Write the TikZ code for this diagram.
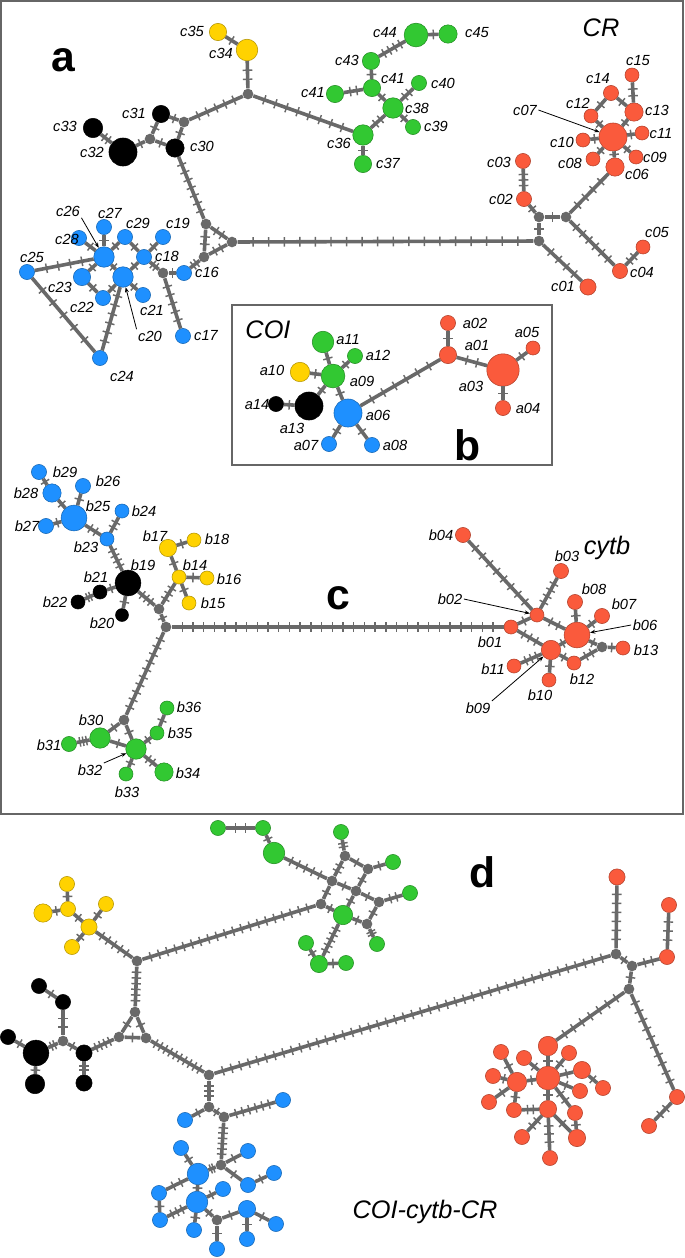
\documentclass[tikz,border=0pt]{standalone}
\usepackage{fontspec}
\setmainfont{Liberation Sans}
\usetikzlibrary{arrows.meta,decorations.markings}
\definecolor{HapRed}{RGB}{250,90,60}
\definecolor{HapGreen}{RGB}{50,200,50}
\definecolor{HapBlue}{RGB}{30,144,255}
\definecolor{HapYellow}{RGB}{255,210,0}
\definecolor{HapBlack}{RGB}{0,0,0}
\definecolor{EdgeGray}{RGB}{105,105,105}
\tikzset{
  hap/.style={circle, draw=#1!70!black, fill=#1, line width=0.4pt, inner sep=0pt},
  rh/.style={hap=HapRed, minimum size=#1*1.62pt},
  gh/.style={hap=HapGreen, minimum size=#1*1.62pt},
  bh/.style={hap=HapBlue, minimum size=#1*1.62pt},
  yh/.style={hap=HapYellow, minimum size=#1*1.62pt},
  kh/.style={hap=HapBlack, minimum size=#1*1.62pt},
  med/.style={circle, fill=EdgeGray, inner sep=0pt, minimum size=8pt},
  lnk/.style={draw=EdgeGray, line width=2.7pt},
  mut/.style={postaction={decorate, decoration={markings,
      mark=between positions 1/(#1+1) and #1/(#1+1)+0.0001 step 1/(#1+1)
      with {\draw[EdgeGray, line width=1.1pt] (0,-3.6pt) -- (0,3.6pt);}}}},
  lab/.style={font=\itshape\fontsize{11}{12}\selectfont, inner sep=1pt},
  panel/.style={font=\bfseries\fontsize{32}{32}\selectfont, inner sep=0pt},
  gene/.style={font=\itshape\fontsize{19}{20}\selectfont, inner sep=0pt},
  lead/.style={draw=black, line width=0.6pt, -{Stealth[length=4pt,width=3pt]}},
  frame/.style={draw=gray!80!black, line width=1.1pt},
}
\begin{document}
\begin{tikzpicture}[x=0.75pt, y=-0.75pt]
\useasboundingbox (0,0) rectangle (685,1258);
\draw[frame] (1,1) rectangle (683,814);
\draw[frame] (232,305) rectangle (552,465);

% ---- a: CR ----
\node[panel] (pa) at (63,60) {a};
\node[gene] (ga) at (601,28) {CR};
\node[kh=9] (c33) at (93,128) {};
\node[kh=13] (c32) at (123,152) {};
\node[kh=8] (c31) at (161,114) {};
\node[kh=8.5] (c30) at (175,148) {};
\node[med] (ma1) at (150,139) {};
\node[med] (ma2) at (184,122) {};
\node[med] (ma3) at (248,94) {};
\node[yh=10] (c34) at (247,50) {};
\node[yh=8] (c35) at (218,32) {};
\node[gh=11] (c44) at (416,35) {};
\node[gh=8.5] (c45) at (448,34) {};
\node[gh=8] (c43) at (371,61) {};
\node[gh=8] (c41) at (372,88) {};
\node[gh=8] (c41b) at (335,94) {};
\node[gh=7] (c40) at (419,83) {};
\node[gh=9.5] (c38) at (393,108) {};
\node[gh=7] (c39) at (413,127) {};
\node[gh=9.5] (c36) at (363,135) {};
\node[gh=8] (c37) at (363,164) {};
\node[rh=6.5] (c15) at (632,75) {};
\node[rh=7] (c14) at (611,93) {};
\node[rh=8.5] (c13) at (634,112) {};
\node[rh=6.5] (c12) at (591,116) {};
\node[rh=13] (c07) at (613,137) {};
\node[rh=6.5] (c11) at (642,133) {};
\node[rh=6.5] (c10) at (583,140) {};
\node[rh=6.5] (c09) at (636,157) {};
\node[rh=6.5] (c08) at (593,159) {};
\node[rh=8.5] (c06) at (615,167) {};
\node[rh=7] (c03) at (523,161) {};
\node[rh=7] (c02) at (524,199) {};
\node[rh=6.5] (c05) at (643,247) {};
\node[rh=7] (c04) at (620,271) {};
\node[rh=7.5] (c01) at (588,287) {};
\node[med] (ma4) at (539,217) {};
\node[med] (ma5) at (566,217) {};
\node[med] (ma6) at (539,241) {};
\node[med] (ma7) at (206,224) {};
\node[med] (ma8) at (232,242) {};
\node[med] (ma9) at (204,257) {};
\node[med] (ma10) at (163,273) {};
\node[bh=7] (c16) at (184,273) {};
\node[bh=7] (c17) at (183,336) {};
\node[bh=9.5] (c26) at (104,257) {};
\node[bh=7] (c27) at (104,227) {};
\node[bh=7] (c28) at (79,238) {};
\node[bh=7] (c29) at (125,237) {};
\node[bh=7] (c19) at (163,237) {};
\node[bh=7] (c18) at (144,257) {};
\node[bh=8] (c23) at (82,277) {};
\node[bh=9.5] (c20) at (123,277) {};
\node[bh=7] (c21) at (143,295) {};
\node[bh=7] (c22) at (103,298) {};
\node[bh=7] (c25) at (27,272) {};
\node[bh=7] (c24) at (100,358) {};

\draw[lnk, mut=2] (c33) -- (c32);
\draw[lnk, mut=1] (c32) -- (ma1);
\draw[lnk, mut=1] (ma1) -- (c31);
\draw[lnk, mut=1] (ma1) -- (c30);
\draw[lnk, mut=1] (c31) -- (ma2);
\draw[lnk, mut=1] (c30) -- (ma2);
\draw[lnk, mut=5] (ma2) -- (ma3);
\draw[lnk, mut=2] (ma3) -- (c34);
\draw[lnk, mut=1] (c34) -- (c35);
\draw[lnk, mut=8] (ma3) -- (c36);
\draw[lnk, mut=1] (c36) -- (c37);
\draw[lnk, mut=2] (c36) -- (c38);
\draw[lnk, mut=1] (c38) -- (c39);
\draw[lnk, mut=2] (c38) -- (c40);
\draw[lnk, mut=1] (c38) -- (c41);
\draw[lnk, mut=2] (c41) -- (c41b);
\draw[lnk, mut=1] (c41) -- (c43);
\draw[lnk, mut=4] (c43) -- (c44);
\draw[lnk, mut=1] (c44) -- (c45);
\draw[lnk, mut=7] (c30) -- (ma7);
\draw[lnk, mut=2] (ma7) -- (ma8);
\draw[lnk, mut=2] (ma7) -- (ma9);
\draw[lnk, mut=2] (ma9) -- (ma8);
\draw[lnk, mut=2] (ma9) -- (c16);
\draw[lnk, mut=1] (c16) -- (ma10);
\draw[lnk, mut=2] (ma10) -- (c18);
\draw[lnk, mut=5] (ma10) -- (c17);
\draw[lnk, mut=1] (c18) -- (c19);
\draw[lnk, mut=1] (c18) -- (c29);
\draw[lnk, mut=1] (c29) -- (c26);
\draw[lnk, mut=1] (c18) -- (c20);
\draw[lnk, mut=1] (c26) -- (c20);
\draw[lnk, mut=1] (c26) -- (c27);
\draw[lnk, mut=1] (c26) -- (c28);
\draw[lnk, mut=1] (c26) -- (c23);
\draw[lnk, mut=1] (c23) -- (c22);
\draw[lnk, mut=1] (c22) -- (c20);
\draw[lnk, mut=1] (c20) -- (c21);
\draw[lnk, mut=4] (c25) -- (c26);
\draw[lnk, mut=5] (c25) -- (c24);
\draw[lnk, mut=6] (c24) -- (c20);
\draw[lnk, mut=18] (ma8) -- (ma6);
\draw[lnk, mut=1] (ma6) -- (ma4);
\draw[lnk, mut=1] (ma4) -- (c02);
\draw[lnk, mut=3] (c02) -- (c03);
\draw[lnk, mut=1] (ma4) -- (ma5);
\draw[lnk, mut=4] (ma5) -- (c06);
\draw[lnk, mut=6] (ma5) -- (c04);
\draw[lnk, mut=2] (c04) -- (c05);
\draw[lnk, mut=4] (ma6) -- (c01);
\draw[lnk, mut=1] (c06) -- (c07);
\draw[lnk, mut=1] (c07) -- (c08);
\draw[lnk, mut=1] (c07) -- (c09);
\draw[lnk, mut=1] (c07) -- (c10);
\draw[lnk, mut=1] (c07) -- (c11);
\draw[lnk, mut=1] (c07) -- (c12);
\draw[lnk, mut=1] (c07) -- (c13);
\draw[lnk, mut=1] (c12) -- (c14);
\draw[lnk, mut=1] (c14) -- (c13);
\draw[lnk, mut=2] (c13) -- (c15);

\node[lab] (t33) at (65,126) {c33};
\node[lab] (t32) at (92,152) {c32};
\node[lab] (t31) at (134,113) {c31};
\node[lab] (t30) at (202,146) {c30};
\node[lab] (t35) at (192,31) {c35};
\node[lab] (t34) at (221,53) {c34};
\node[lab] (t44) at (385,33) {c44};
\node[lab] (t45) at (477,33) {c45};
\node[lab] (t43) at (347,60) {c43};
\node[lab] (t41) at (393,79) {c41};
\node[lab] (t41b) at (313,93) {c41};
\node[lab] (t40) at (443,83) {c40};
\node[lab] (t38) at (417,108) {c38};
\node[lab] (t39) at (436,126) {c39};
\node[lab] (t36) at (339,143) {c36};
\node[lab] (t37) at (388,163) {c37};
\node[lab] (t15) at (638,61) {c15};
\node[lab] (t14) at (598,79) {c14};
\node[lab] (t13) at (657,110) {c13};
\node[lab] (t12) at (578,103) {c12};
\node[lab] (t07) at (525,110) {c07};
\node[lab] (t11) at (661,134) {c11};
\node[lab] (t10) at (562,142) {c10};
\node[lab] (t09) at (655,157) {c09};
\node[lab] (t08) at (570,163) {c08};
\node[lab] (t06) at (637,174) {c06};
\node[lab] (t03) at (499,162) {c03};
\node[lab] (t02) at (501,199) {c02};
\node[lab] (t05) at (657,232) {c05};
\node[lab] (t04) at (642,272) {c04};
\node[lab] (t01) at (563,286) {c01};
\node[lab] (t26) at (68,211) {c26};
\node[lab] (t27) at (110,213) {c27};
\node[lab] (t29) at (138,223) {c29};
\node[lab] (t19) at (178,223) {c19};
\node[lab] (t28) at (67,239) {c28};
\node[lab] (t25) at (32,257) {c25};
\node[lab] (t18) at (167,256) {c18};
\node[lab] (t16) at (207,272) {c16};
\node[lab] (t23) at (60,287) {c23};
\node[lab] (t22) at (82,307) {c22};
\node[lab] (t21) at (152,310) {c21};
\node[lab] (t20) at (150,336) {c20};
\node[lab] (t17) at (206,336) {c17};
\node[lab] (t24) at (122,376) {c24};
\draw[lead] (t07.east) -- (c07);
\draw[lead] (t26.south east) -- (c26);
\draw[lead] (t20.north west) -- (c20);

% ---- b: COI ----
\node[panel] (pb) at (468,445) {b};
\node[gene] (gb) at (268,330) {COI};
\node[rh=7] (a02) at (448,323) {};
\node[rh=8] (a01) at (448,355) {};
\node[rh=6.5] (a05) at (533,348) {};
\node[rh=15] (a03) at (503,370) {};
\node[rh=7] (a04) at (503,408) {};
\node[gh=10] (a11) at (323,342) {};
\node[gh=7] (a12) at (355,356) {};
\node[yh=9] (a10) at (300,372) {};
\node[gh=11] (a09) at (333,376) {};
\node[kh=7] (a14) at (276,404) {};
\node[kh=13] (a13) at (309,406) {};
\node[bh=13] (a06) at (348,413) {};
\node[bh=7] (a07) at (329,444) {};
\node[bh=7] (a08) at (372,445) {};
\draw[lnk, mut=1] (a01) -- (a02);
\draw[lnk, mut=2] (a01) -- (a03);
\draw[lnk, mut=1] (a03) -- (a05);
\draw[lnk, mut=1] (a03) -- (a04);
\draw[lnk, mut=6] (a01) -- (a06);
\draw[lnk, mut=1] (a06) -- (a09);
\draw[lnk, mut=1] (a09) -- (a11);
\draw[lnk, mut=1] (a09) -- (a12);
\draw[lnk, mut=1] (a09) -- (a10);
\draw[lnk, mut=1] (a09) -- (a13);
\draw[lnk, mut=1] (a13) -- (a14);
\draw[lnk, mut=1] (a06) -- (a07);
\draw[lnk, mut=1] (a06) -- (a08);
\node[lab] (s02) at (475,323) {a02};
\node[lab] (s01) at (477,345) {a01};
\node[lab] (s05) at (527,332) {a05};
\node[lab] (s03) at (471,386) {a03};
\node[lab] (s04) at (528,408) {a04};
\node[lab] (s11) at (348,340) {a11};
\node[lab] (s12) at (378,355) {a12};
\node[lab] (s10) at (272,370) {a10};
\node[lab] (s09) at (362,381) {a09};
\node[lab] (s14) at (257,405) {a14};
\node[lab] (s13) at (292,428) {a13};
\node[lab] (s06) at (378,415) {a06};
\node[lab] (s07) at (306,445) {a07};
\node[lab] (s08) at (395,445) {a08};

% ---- c: cytb ----
\node[panel] (pc) at (338,598) {c};
\node[gene] (gc) at (607,548) {cytb};
\node[bh=7] (b29) at (39,472) {};
\node[bh=8.5] (b28) at (52,493) {};
\node[bh=7] (b26) at (83,486) {};
\node[bh=7] (b27) at (46,526) {};
\node[bh=12] (b25) at (74,518) {};
\node[bh=6.5] (b24) at (122,511) {};
\node[bh=6.5] (b23) at (107,539) {};
\node[kh=12] (b19) at (128,583) {};
\node[kh=6.5] (b21) at (100,592) {};
\node[kh=6.5] (b22) at (78,602) {};
\node[kh=6] (b20) at (122,615) {};
\node[yh=8] (b17) at (168,548) {};
\node[yh=6.5] (b18) at (194,540) {};
\node[yh=6.5] (b14) at (179,577) {};
\node[yh=6.5] (b16) at (207,578) {};
\node[yh=6.5] (b15) at (189,603) {};
\node[med] (mc1) at (159,609) {};
\node[med] (mc2) at (166,627) {};
\node[med] (mc3) at (124,720) {};
\node[gh=9.5] (b30) at (100,738) {};
\node[gh=7] (b31) at (69,744) {};
\node[gh=9.5] (b32) at (136,749) {};
\node[gh=6.5] (b33) at (126,774) {};
\node[gh=8.5] (b34) at (164,772) {};
\node[gh=6.5] (b35) at (157,733) {};
\node[gh=6.5] (b36) at (167,708) {};
\node[rh=7] (b04) at (463,535) {};
\node[rh=7] (b03) at (561,571) {};
\node[rh=7] (b08) at (575,602) {};
\node[rh=7] (b07) at (602,616) {};
\node[rh=6.5] (b02) at (537,615) {};
\node[rh=6.5] (b01) at (511,627) {};
\node[rh=12] (b06) at (577,635) {};
\node[rh=6.5] (b13) at (623,648) {};
\node[med] (mc4) at (602,647) {};
\node[rh=9] (b09) at (551,650) {};
\node[rh=6.5] (b12) at (574,663) {};
\node[rh=6.5] (b11) at (514,666) {};
\node[rh=6.5] (b10) at (549,680) {};
\draw[lnk, mut=1] (b29) -- (b28);
\draw[lnk, mut=1] (b28) -- (b25);
\draw[lnk, mut=1] (b26) -- (b25);
\draw[lnk, mut=1] (b27) -- (b25);
\draw[lnk, mut=2] (b25) -- (b23);
\draw[lnk, mut=2] (b23) -- (b24);
\draw[lnk, mut=4] (b23) -- (b19);
\draw[lnk, mut=1] (b19) -- (b21);
\draw[lnk, mut=2] (b21) -- (b22);
\draw[lnk, mut=1] (b19) -- (b20);
\draw[lnk, mut=3] (b19) -- (mc1);
\draw[lnk, mut=3] (mc1) -- (b14);
\draw[lnk, mut=1] (b14) -- (b17);
\draw[lnk, mut=1] (b17) -- (b18);
\draw[lnk, mut=1] (b14) -- (b16);
\draw[lnk, mut=1] (b14) -- (b15);
\draw[lnk, mut=1] (mc1) -- (mc2);
\draw[lnk, mut=30] (mc2) -- (b01);
\draw[lnk, mut=10] (mc2) -- (mc3);
\draw[lnk, mut=1] (mc3) -- (b30);
\draw[lnk, mut=1] (mc3) -- (b32);
\draw[lnk, mut=1] (b30) -- (b32);
\draw[lnk, mut=3] (b30) -- (b31);
\draw[lnk, mut=1] (b32) -- (b33);
\draw[lnk, mut=2] (b32) -- (b34);
\draw[lnk, mut=1] (b32) -- (b35);
\draw[lnk, mut=1] (b35) -- (b36);
\draw[lnk, mut=8] (b04) -- (b02);
\draw[lnk, mut=4] (b03) -- (b02);
\draw[lnk, mut=1] (b02) -- (b01);
\draw[lnk, mut=2] (b02) -- (b06);
\draw[lnk, mut=3] (b01) -- (b09);
\draw[lnk, mut=1] (b06) -- (b08);
\draw[lnk, mut=1] (b06) -- (b07);
\draw[lnk, mut=1] (b06) -- (b09);
\draw[lnk, mut=1] (b06) -- (mc4);
\draw[lnk, mut=1] (mc4) -- (b13);
\draw[lnk, mut=2] (mc4) -- (b12);
\draw[lnk, mut=1] (b09) -- (b12);
\draw[lnk, mut=3] (b09) -- (b11);
\draw[lnk, mut=1] (b09) -- (b10);
\node[lab] (u29) at (65,472) {b29};
\node[lab] (u28) at (26,493) {b28};
\node[lab] (u26) at (108,481) {b26};
\node[lab] (u25) at (98,506) {b25};
\node[lab] (u27) at (27,526) {b27};
\node[lab] (u24) at (144,511) {b24};
\node[lab] (u23) at (86,547) {b23};
\node[lab] (u19) at (143,565) {b19};
\node[lab] (u21) at (96,577) {b21};
\node[lab] (u22) at (55,602) {b22};
\node[lab] (u20) at (102,623) {b20};
\node[lab] (u17) at (155,536) {b17};
\node[lab] (u18) at (217,539) {b18};
\node[lab] (u14) at (195,565) {b14};
\node[lab] (u16) at (229,579) {b16};
\node[lab] (u15) at (213,603) {b15};
\node[lab] (u30) at (91,720) {b30};
\node[lab] (u31) at (49,745) {b31};
\node[lab] (u32) at (90,770) {b32};
\node[lab] (u33) at (127,792) {b33};
\node[lab] (u34) at (188,773) {b34};
\node[lab] (u35) at (180,733) {b35};
\node[lab] (u36) at (189,707) {b36};
\node[lab] (u04) at (441,535) {b04};
\node[lab] (u03) at (567,556) {b03};
\node[lab] (u08) at (594,589) {b08};
\node[lab] (u07) at (624,604) {b07};
\node[lab] (u02) at (450,599) {b02};
\node[lab] (u06) at (645,625) {b06};
\node[lab] (u13) at (646,650) {b13};
\node[lab] (u01) at (490,642) {b01};
\node[lab] (u11) at (493,669) {b11};
\node[lab] (u12) at (582,679) {b12};
\node[lab] (u10) at (540,695) {b10};
\node[lab] (u09) at (478,708) {b09};
\draw[lead] (u02.east) -- (b02);
\draw[lead] (u06.west) -- (b06);
\draw[lead] (u09.north east) -- (b09);
\draw[lead] (u32.north east) -- (b32);

% ---- d: COI-cytb-CR ----
\node[panel] (pd) at (483,872) {d};
\node[gene] (gd) at (425,1212) {COI-cytb-CR};
\node[gh=7] (g1) at (218,828) {};
\node[gh=7] (g2) at (263,828) {};
\node[gh=10] (g3) at (274,853) {};
\node[gh=7] (g4) at (341,832) {};
\node[gh=7] (g5) at (393,862) {};
\node[gh=7] (g6) at (410,893) {};
\node[gh=9] (g7) at (343,915) {};
\node[gh=7] (g8) at (377,944) {};
\node[gh=7] (g9) at (306,943) {};
\node[gh=8] (g10) at (319,964) {};
\node[gh=7] (g11) at (346,963) {};
\node[med] (gm1) at (345,856) {};
\node[med] (gm2) at (368,869) {};
\node[med] (gm3) at (332,881) {};
\node[med] (gm4) at (356,891) {};
\node[med] (gm5) at (321,904) {};
\node[med] (gm6) at (379,902) {};
\node[med] (gm7) at (367,924) {};
\node[yh=7] (y1) at (67,884) {};
\node[yh=7] (y2) at (68,909) {};
\node[yh=8.5] (y3) at (43,913) {};
\node[yh=7] (y4) at (106,904) {};
\node[yh=7.5] (y5) at (89,927) {};
\node[yh=7] (y6) at (72,947) {};
\node[med] (dm1) at (137,961) {};
\node[med] (dm2) at (135,1012) {};
\node[med] (dm4) at (119,1037) {};
\node[med] (dm5) at (146,1038) {};
\node[med] (dm6) at (209,1075) {};
\node[med] (dm7) at (209,1107) {};
\node[med] (dm8) at (224,1117) {};
\node[med] (dm9) at (221,1165) {};
\node[med] (dm10) at (217,1220) {};
\node[kh=7] (k1) at (39,986) {};
\node[kh=7] (k2) at (63,1002) {};
\node[kh=7] (k3) at (8,1037) {};
\node[kh=12] (k4) at (36,1053) {};
\node[kh=9] (k5) at (35,1084) {};
\node[med] (km) at (63,1041) {};
\node[kh=7.5] (k6) at (84,1053) {};
\node[kh=7.5] (k7) at (84,1083) {};
\node[bh=7] (l1) at (185,1120) {};
\node[bh=7] (l2) at (283,1100) {};
\node[bh=7] (l3) at (181,1148) {};
\node[bh=7] (l4) at (248,1151) {};
\node[bh=10] (l5) at (198,1174) {};
\node[bh=7] (l6) at (248,1185) {};
\node[bh=7] (l7) at (274,1173) {};
\node[bh=7] (l8) at (159,1193) {};
\node[bh=7] (l9) at (223,1189) {};
\node[bh=10] (l10) at (197,1202) {};
\node[bh=7] (l11) at (160,1220) {};
\node[bh=7] (l12) at (194,1230) {};
\node[bh=7] (l13) at (217,1249) {};
\node[bh=8] (l14) at (247,1209) {};
\node[bh=7] (l15) at (276,1224) {};
\node[bh=7] (l16) at (247,1239) {};
\node[rh=7.5] (r1) at (617,877) {};
\node[rh=7] (r2) at (669,905) {};
\node[rh=7] (r3) at (667,957) {};
\node[med] (rm1) at (616,954) {};
\node[med] (rm2) at (632,966) {};
\node[med] (rm3) at (629,989) {};
\node[rh=7] (r4) at (677,1097) {};
\node[rh=7] (r5) at (649,1126) {};
\node[rh=9] (r6) at (548,1046) {};
\node[rh=11] (r7) at (548,1078) {};
\node[rh=9] (r8) at (517,1082) {};
\node[rh=8] (r9) at (548,1109) {};
\node[rh=7] (r10) at (501,1052) {};
\node[rh=7] (r11) at (524,1058) {};
\node[rh=7] (r12) at (569,1053) {};
\node[rh=8] (r13) at (582,1070) {};
\node[rh=7] (r14) at (603,1088) {};
\node[rh=7] (r15) at (580,1091) {};
\node[rh=7] (r16) at (493,1076) {};
\node[rh=7] (r17) at (489,1102) {};
\node[rh=7] (r18) at (514,1110) {};
\node[rh=7] (r19) at (575,1113) {};
\node[rh=8] (r20) at (577,1138) {};
\node[rh=7] (r21) at (522,1137) {};
\node[rh=7] (r22) at (550,1158) {};
\draw[lnk, mut=2] (g1) -- (g2);
\draw[lnk, mut=1] (g2) -- (g3);
\draw[lnk, mut=5] (g3) -- (gm3);
\draw[lnk, mut=2] (gm1) -- (g4);
\draw[lnk, mut=1] (gm1) -- (gm2);
\draw[lnk, mut=1] (gm2) -- (g5);
\draw[lnk, mut=2] (gm1) -- (gm3);
\draw[lnk, mut=1] (gm2) -- (gm4);
\draw[lnk, mut=1] (gm3) -- (gm4);
\draw[lnk, mut=1] (gm3) -- (gm5);
\draw[lnk, mut=1] (gm4) -- (gm6);
\draw[lnk, mut=1] (gm6) -- (gm7);
\draw[lnk, mut=1] (gm7) -- (g7);
\draw[lnk, mut=1] (g7) -- (gm4);
\draw[lnk, mut=1] (gm5) -- (g7);
\draw[lnk, mut=2] (gm6) -- (g6);
\draw[lnk, mut=2] (gm7) -- (g8);
\draw[lnk, mut=5] (g7) -- (g10);
\draw[lnk, mut=1] (g10) -- (g9);
\draw[lnk, mut=1] (g10) -- (g11);
\draw[lnk, mut=20] (gm5) -- (dm1);
\draw[lnk, mut=1] (y1) -- (y2);
\draw[lnk, mut=1] (y2) -- (y3);
\draw[lnk, mut=1] (y2) -- (y5);
\draw[lnk, mut=1] (y5) -- (y4);
\draw[lnk, mut=1] (y5) -- (y6);
\draw[lnk, mut=5] (y5) -- (dm1);
\draw[lnk, mut=6] (dm1) -- (dm2);
\draw[lnk, mut=1] (k1) -- (k2);
\draw[lnk, mut=2] (k2) -- (km);
\draw[lnk, mut=2] (km) -- (k4);
\draw[lnk, mut=1] (k3) -- (k4);
\draw[lnk, mut=1] (k4) -- (k5);
\draw[lnk, mut=1] (km) -- (k6);
\draw[lnk, mut=2] (k6) -- (k7);
\draw[lnk, mut=4] (k6) -- (dm4);
\draw[lnk, mut=1] (dm4) -- (dm2);
\draw[lnk, mut=1] (dm2) -- (dm5);
\draw[lnk, mut=1] (dm4) -- (dm5);
\draw[lnk, mut=10] (dm5) -- (dm6);
\draw[lnk, mut=45] (dm6) -- (rm1);
\draw[lnk, mut=3] (dm6) -- (dm7);
\draw[lnk, mut=1] (dm7) -- (l1);
\draw[lnk, mut=1] (dm7) -- (dm8);
\draw[lnk, mut=6] (dm8) -- (l2);
\draw[lnk, mut=6] (dm8) -- (dm9);
\draw[lnk, mut=1] (l3) -- (l5);
\draw[lnk, mut=1] (dm9) -- (l4);
\draw[lnk, mut=2] (dm9) -- (l5);
\draw[lnk, mut=1] (dm9) -- (l6);
\draw[lnk, mut=1] (l6) -- (l7);
\draw[lnk, mut=2] (l5) -- (l8);
\draw[lnk, mut=1] (l5) -- (l10);
\draw[lnk, mut=1] (l8) -- (l11);
\draw[lnk, mut=3] (l11) -- (l10);
\draw[lnk, mut=1] (l10) -- (l9);
\draw[lnk, mut=1] (l10) -- (l12);
\draw[lnk, mut=1] (l10) -- (dm10);
\draw[lnk, mut=1] (dm10) -- (l13);
\draw[lnk, mut=1] (dm10) -- (l14);
\draw[lnk, mut=1] (l14) -- (l15);
\draw[lnk, mut=1] (l14) -- (l16);
\draw[lnk, mut=6] (r1) -- (rm1);
\draw[lnk, mut=1] (rm1) -- (rm2);
\draw[lnk, mut=3] (r2) -- (r3);
\draw[lnk, mut=2] (r3) -- (rm2);
\draw[lnk, mut=1] (rm2) -- (rm3);
\draw[lnk, mut=7] (rm3) -- (r6);
\draw[lnk, mut=10] (rm3) -- (r4);
\draw[lnk, mut=2] (r4) -- (r5);
\draw[lnk, mut=1] (r6) -- (r7);
\draw[lnk, mut=1] (r7) -- (r8);
\draw[lnk, mut=1] (r7) -- (r9);
\draw[lnk, mut=1] (r7) -- (r11);
\draw[lnk, mut=1] (r7) -- (r12);
\draw[lnk, mut=1] (r7) -- (r13);
\draw[lnk, mut=1] (r7) -- (r15);
\draw[lnk, mut=1] (r13) -- (r14);
\draw[lnk, mut=1] (r8) -- (r10);
\draw[lnk, mut=1] (r8) -- (r16);
\draw[lnk, mut=1] (r8) -- (r17);
\draw[lnk, mut=1] (r8) -- (r18);
\draw[lnk, mut=2] (r18) -- (r9);
\draw[lnk, mut=2] (r9) -- (r21);
\draw[lnk, mut=3] (r9) -- (r22);
\draw[lnk, mut=1] (r9) -- (r20);
\draw[lnk, mut=2] (r7) -- (r19);
\draw[lnk, mut=1] (r19) -- (r20);
\end{tikzpicture}
\end{document}
